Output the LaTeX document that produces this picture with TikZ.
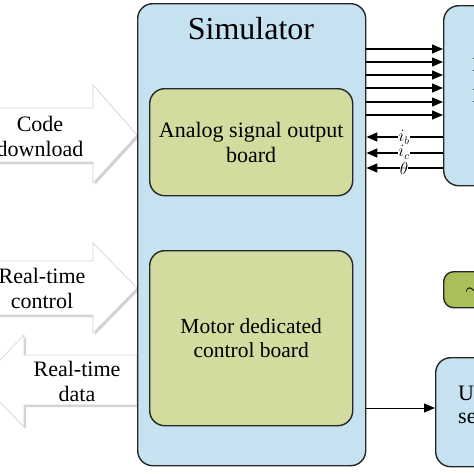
\documentclass[tikz,border=0pt]{standalone}
\usepackage{fontspec}
\setmainfont{Liberation Serif}
\usetikzlibrary{arrows.meta,shadows}
\definecolor{simblue}{HTML}{C6E1EF}
\definecolor{boardgreen}{HTML}{D3DB9F}
\definecolor{srcgreen}{HTML}{A9C05A}
\definecolor{edge}{HTML}{262626}
\tikzset{
  bigbox/.style={draw=edge, line width=1.4pt, rounded corners=15pt, fill=simblue},
  boardbox/.style={draw=edge, line width=1.4pt, rounded corners=15pt, fill=boardgreen},
  srcbox/.style={draw=edge, line width=1.4pt, rounded corners=10pt, fill=srcgreen},
  blockarrow/.style={fill=white, draw=gray!35, line width=0.6pt,
     drop shadow={shadow xshift=2pt, shadow yshift=-2pt, opacity=0.35, fill=gray}},
  sig/.style={draw=black, line width=1.3pt, -{Triangle[length=11pt,width=9pt]}},
  lbl/.style={font=\fontsize{22}{25}\selectfont, align=center, inner sep=0pt},
  sublbl/.style={fill=white, inner sep=0.3pt, font=\fontsize{16}{17}\selectfont}
}
\begin{document}
\begin{tikzpicture}[x=1pt,y=-1pt]
\useasboundingbox (0,0) rectangle (474,474);
\fill[white] (0,0) rectangle (474,474);

% block arrows on the left
\path[blockarrow] (-20,108) -- (93,108) -- (93,85) -- (137,135) -- (93,183) -- (93,162) -- (-20,162) -- cycle;
\path[blockarrow] (-20,261) -- (93,261) -- (93,243) -- (137,288) -- (93,333) -- (93,315) -- (-20,315) -- cycle;
\path[blockarrow] (137,355) -- (24,355) -- (24,335) -- (-20,381) -- (24,427) -- (24,405) -- (137,405) -- cycle;
\node[lbl] (code) at (40,136) {Code\\download};
\node[lbl] (rtc) at (42,288) {Real-time\\control};
\node[lbl] (rtd) at (77,381) {Real-time\\data};

% simulator
\node[bigbox, minimum width=228pt, minimum height=462pt, anchor=north west] (sim) at (137,3) {};
\node[font=\fontsize{32}{36}\selectfont, inner sep=0pt] (simt) at (251,29) {Simulator};
\node[boardbox, minimum width=203pt, minimum height=107pt, anchor=north west, lbl] (aob) at (149,88)
  {Analog signal output\\board};
\node[boardbox, minimum width=203pt, minimum height=175pt, anchor=north west,
  font=\fontsize{21.5}{24.5}\selectfont, align=center] (mdb) at (149,250)
  {Motor dedicated\\control board};

% right side boxes (cut by the page edge)
\node[bigbox, minimum width=120pt, minimum height=180pt, anchor=north west] (drv) at (443,5) {};
\node[font=\fontsize{20}{31}\selectfont, anchor=north west, align=left, inner sep=0pt] (drvt) at (472,58) {IPM\\Inverter};
\node[srcbox, minimum width=120pt, minimum height=36pt, anchor=north west] (src) at (443,271) {};
\node[font=\fontsize{20}{24}\selectfont, anchor=west, inner sep=0pt] (srct) at (465,289) {$\sim$ 380 V};
\node[bigbox, minimum width=120pt, minimum height=109pt, anchor=north west] (usb) at (435,357) {};
\node[lbl, anchor=north west, align=left] (usbt) at (458,386) {USB\\[-2pt]serial};

% signal arrows
\foreach \y/\n in {49/a,62/b,75/c,88/d,102/e,115/f}{
  \coordinate (s\n) at (sim.east |- 0,\y);
  \coordinate (d\n) at (drv.west |- 0,\y);
  \draw[sig] (s\n) -- (d\n);
}
\foreach \y/\n in {137/g,153/h,168/k}{
  \coordinate (s\n) at (sim.east |- 0,\y);
  \coordinate (d\n) at (drv.west |- 0,\y);
  \draw[sig] (d\n) -- (s\n);
}
\node[sublbl] (lb) at (404,137.5) {$i_b$};
\node[sublbl] (lc) at (404,152.5) {$i_c$};
\node[sublbl] (lt) at (404,168.5) {$\theta$};
\coordinate (su) at (sim.east |- 0,408);
\coordinate (du) at (usb.west |- 0,408);
\draw[sig, line width=1pt] (su) -- (du);
\end{tikzpicture}
\end{document}
